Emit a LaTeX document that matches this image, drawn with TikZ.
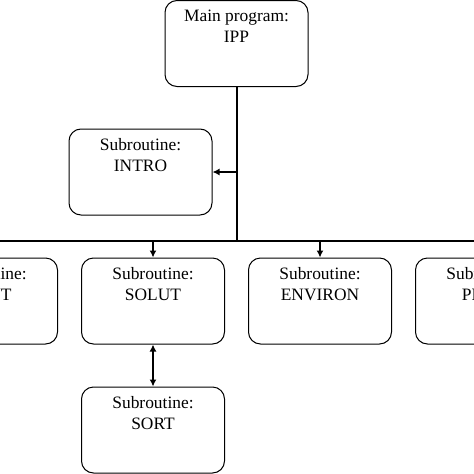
\documentclass[tikz,border=0pt]{standalone}
\usepackage{fontspec}
\setmainfont{Liberation Serif}
\usetikzlibrary{arrows.meta}

\tikzset{
  subbox/.style={draw=black,line width=1pt,rounded corners=12pt,
    minimum width=143pt,minimum height=86pt,inner sep=0pt},
  sublabel/.style={anchor=north,align=center,inner sep=0pt,yshift=-9.5pt,
    font=\fontsize{17.4pt}{21pt}\selectfont},
  link/.style={line width=1.6pt},
  call/.style={line width=1.6pt,-{Latex[length=7pt,width=7pt]}}
}

\begin{document}
\begin{tikzpicture}[x=1pt,y=-1pt]
\useasboundingbox (0,0) rectangle (474,474);
\clip (0,0) rectangle (474,474);
% main program
\node[subbox] (ipp) at (236.5,43.5) {};
\node[sublabel] (ipp-t) at (ipp.north) {Main program:\\IPP};
% first subroutine
\node[subbox] (intro) at (140.5,172) {};
\node[sublabel] (intro-t) at (intro.north) {Subroutine:\\INTRO};
% row of subroutines
\node[subbox] (input) at (-14,301) {};
\node[sublabel] (input-t) at (input.north) {Subroutine:\\INPUT};
\node[subbox] (solut) at (153,301) {};
\node[sublabel] (solut-t) at (solut.north) {Subroutine:\\SOLUT};
\node[subbox] (environ) at (320,301) {};
\node[sublabel] (environ-t) at (environ.north) {Subroutine:\\ENVIRON};
\node[subbox] (print) at (487,301) {};
\node[sublabel] (print-t) at (print.north) {Subroutine:\\PRINT};
\node[subbox] (sort) at (153,430) {};
\node[sublabel] (sort-t) at (sort.north) {Subroutine:\\SORT};
% connectors
\coordinate (bus) at (237,241);
\coordinate (busl) at (input.north |- bus);
\coordinate (busr) at (print.north |- bus);
\draw[link] (ipp.south -| bus) -- (bus);
\draw[link] (busl) -- (busr);
\draw[call] (intro.east -| bus) -- (intro.east);
\draw[call] (solut.north |- bus) -- (solut.north);
\draw[call] (environ.north |- bus) -- (environ.north);
\draw[line width=1.6pt,{Latex[length=7pt,width=7pt]}-{Latex[length=7pt,width=7pt]}] (solut.south) -- (sort.north);
\end{tikzpicture}
\end{document}
